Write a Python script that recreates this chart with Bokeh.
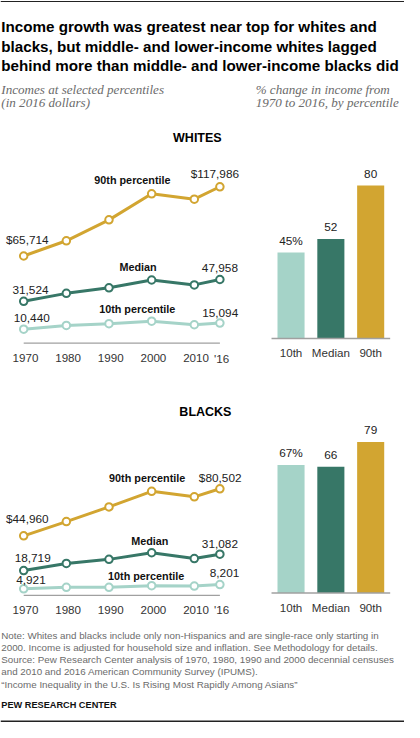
from bokeh.plotting import figure
from bokeh.models import Range1d, Span
from bokeh.embed import file_html
from bokeh.resources import INLINE
from bokeh.core.properties import value

# ---------------- data ----------------
years = [1970, 1980, 1990, 2000, 2010, 2016]
year_labels = ["1970", "1980", "1990", "2000", "2010", "'16"]
series_names = ["90th percentile", "Median", "10th percentile"]

white_p90 = [65714, 77200, 93000, 112700, 108600, 117986]
white_med = [31524, 37500, 41700, 47600, 43900, 47958]
white_p10 = [10440, 13300, 14600, 16500, 13800, 15094]

black_p90 = [44960, 55700, 66800, 78600, 74400, 80502]
black_med = [18719, 24100, 27200, 32200, 27800, 31082]
black_p10 = [4921, 6100, 6100, 7300, 7000, 8201]

bar_cats = ["10th", "Median", "90th"]
white_change = [45, 52, 80]
black_change = [67, 66, 79]

title_lines = [
    "Income growth was greatest near top for whites and",
    "blacks, but middle- and lower-income whites lagged",
    "behind more than middle- and lower-income blacks did",
]
sub_left = ["Incomes at selected percentiles", "(in 2016 dollars)"]
sub_right = ["% change in income from", "1970 to 2016, by percentile"]
note_lines = [
    "Note:  Whites and blacks include only non-Hispanics and are single-race only starting in",
    "2000. Income is adjusted for household size and inflation. See Methodology for details.",
    "Source: Pew Research Center analysis of 1970, 1980, 1990 and 2000 decennial censuses",
    "and 2010 and 2016 American Community Survey (IPUMS).",
    "\u201cIncome Inequality in the U.S. Is Rising Most Rapidly Among Asians\u201d",
]
footer = "PEW RESEARCH CENTER"

# ---------------- style / layout ----------------
C90, CMED, C10 = "#D2A531", "#377767", "#A5D3C8"
FONT = value("Liberation Sans")
SERIF = value("Liberation Serif")

W, H = 404, 722
RX0, RX1 = 1.0, 419.0
RYT, RYB = 0.5, 737.2
sx = W / (RX1 - RX0)
sy = H / (RYB - RYT)

p = figure(width=W, height=H, x_range=Range1d(RX0, RX1), y_range=Range1d(RYB, RYT),
           x_axis_type=None, y_axis_type=None, output_backend="svg",
           toolbar_location=None, min_border=0, outline_line_color=None)
p.grid.visible = False
p.background_fill_color = "white"
p.border_fill_color = "white"

# year scale (shared by both line charts)
X1970, YPX = 25.0, 203.0 / 46.0
p.extra_x_ranges["yr"] = Range1d(1970 + (RX0 - X1970) / YPX, 1970 + (RX1 - X1970) / YPX)
K = 740.0  # dollars per reference pixel
W_ZERO, B_ZERO = 350.0, 607.5
p.extra_y_ranges["wy"] = Range1d((W_ZERO - RYB) * K, (W_ZERO - RYT) * K)
p.extra_y_ranges["by"] = Range1d((B_ZERO - RYB) * K, (B_ZERO - RYT) * K)

# bar scale
BX0, BSTEP, PPX = 301.6, 41.2, 1.95
p.extra_x_ranges["bx"] = Range1d((RX0 - BX0) / BSTEP, (RX1 - BX0) / BSTEP)
WB_BASE, BB_BASE = 345.3, 605.0
p.extra_y_ranges["wb"] = Range1d((WB_BASE - RYB) / PPX, (WB_BASE - RYT) / PPX)
p.extra_y_ranges["bb"] = Range1d((BB_BASE - RYB) / PPX, (BB_BASE - RYT) / PPX)


def txt(x, y, t, size, color="#222222", bold=False, italic=False, align="center",
        baseline="middle", font=FONT, **kw):
    style = "bold" if bold else ("italic" if italic else "normal")
    p.text(x=x, y=y, text=t, text_font=font, text_font_size=f"{size}px",
           text_font_style=style, text_color=color, text_align=align,
           text_baseline=baseline, **kw)


# rules
p.add_layout(Span(location=1.5, dimension="width", line_color="#222222", line_width=1.2))
p.add_layout(Span(location=736.0, dimension="width", line_color="#222222", line_width=1.5))

# title & subtitles
for i, line in enumerate(title_lines):
    txt([1.8], [27.3 + i * 19.8], [line], 15.2, color="#000000", bold=True,
        align="left", baseline="alphabetic")
for i, line in enumerate(sub_left):
    txt([1.8], [91.0 + i * 13.3], [line], 13.1, color="#6b6b6b", italic=True,
        align="left", baseline="alphabetic", font=SERIF)
for i, line in enumerate(sub_right):
    txt([265.0], [91.0 + i * 13.3], [line], 13.1, color="#6b6b6b", italic=True,
        align="left", baseline="alphabetic", font=SERIF)

# section headers
txt([204.7], [140.7], ["WHITES"], 12.5, color="#000000", bold=True)
txt([213.0], [420.7], ["BLACKS"], 12.5, color="#000000", bold=True)


def fmt(v, dollar=False):
    return ("$" if dollar else "") + f"{v:,}"


def line_chart(series, yname, year_y, first_off, last_off, name_pos):
    colors = [C90, CMED, C10]
    p.segment(x0=[years[0]], x1=[years[-1]], y0=[0], y1=[0], x_range_name="yr",
              y_range_name=yname, line_color="#a0a0a0", line_width=1.2)
    for k, (vals, c) in enumerate(zip(series, colors)):
        p.line(years, vals, x_range_name="yr", y_range_name=yname,
               line_color=c, line_width=3)
        p.scatter(years, vals, x_range_name="yr", y_range_name=yname, size=7.5,
                  fill_color="white", line_color=c, line_width=2)
        dx, dy = first_off[k]
        txt([years[0]], [vals[0]], [fmt(vals[0], k == 0)], 11.8,
            x_range_name="yr", y_range_name=yname, x_offset=dx * sx, y_offset=dy * sy)
        dx, dy = last_off[k]
        txt([years[-1]], [vals[-1]], [fmt(vals[-1], k == 0)], 11.8,
            x_range_name="yr", y_range_name=yname, x_offset=dx * sx, y_offset=dy * sy)
        nx, ny = name_pos[k]
        txt([nx], [ny], [series_names[k]], 10.8, color="#111111", bold=True)
    txt(years, [year_y] * len(years), year_labels, 11.6, color="#333333",
        x_range_name="yr", x_offset=1.8 * sx)


def bar_chart(vals, yname, cat_y):
    idx = list(range(len(bar_cats)))
    p.vbar(x=idx, top=vals, bottom=0, width=0.68, x_range_name="bx",
           y_range_name=yname, fill_color=[C10, CMED, C90], line_color=None)
    p.segment(x0=[idx[0] - 0.49], x1=[idx[-1] + 0.49], y0=[0], y1=[0],
              x_range_name="bx", y_range_name=yname, line_color="#a0a0a0", line_width=1.5)
    labels = [f"{v}%" if i == 0 else f"{v}" for i, v in enumerate(vals)]
    txt(idx, vals, labels, 11.8, x_range_name="bx", y_range_name=yname,
        y_offset=-12.0 * sy)
    txt(idx, [cat_y] * len(idx), bar_cats, 11.6, color="#333333", x_range_name="bx")


line_chart([white_p90, white_med, white_p10], "wy", 365.7,
           first_off=[(3.7, -16.7), (7.0, -11.7), (8.3, -11.0)],
           last_off=[(-5.2, -12.6), (0.0, -11.3), (0.3, -10.7)],
           name_pos=[(137.5, 183.3), (143.3, 272.3), (142.5, 315.0)])
line_chart([black_p90, black_med, black_p10], "by", 622.3,
           first_off=[(3.7, -16.7), (9.3, -12.7), (7.5, -8.7)],
           last_off=[(0.3, -10.7), (0.0, -10.7), (4.8, -12.0)],
           name_pos=[(152.8, 487.3), (155.5, 552.3), (151.7, 587.3)])

bar_chart(white_change, "wb", 360.0)
bar_chart(black_change, "bb", 620.0)

# notes
for i, line in enumerate(note_lines):
    txt([1.8], [648.0 + i * 12.5], [line], 9.8, color="#6b6b6b", align="left",
        baseline="alphabetic")
txt([1.8], [719.3], [footer], 9.2, color="#111111", bold=True, align="left",
    baseline="alphabetic")

open("out.html", "w").write(file_html(p, INLINE))
